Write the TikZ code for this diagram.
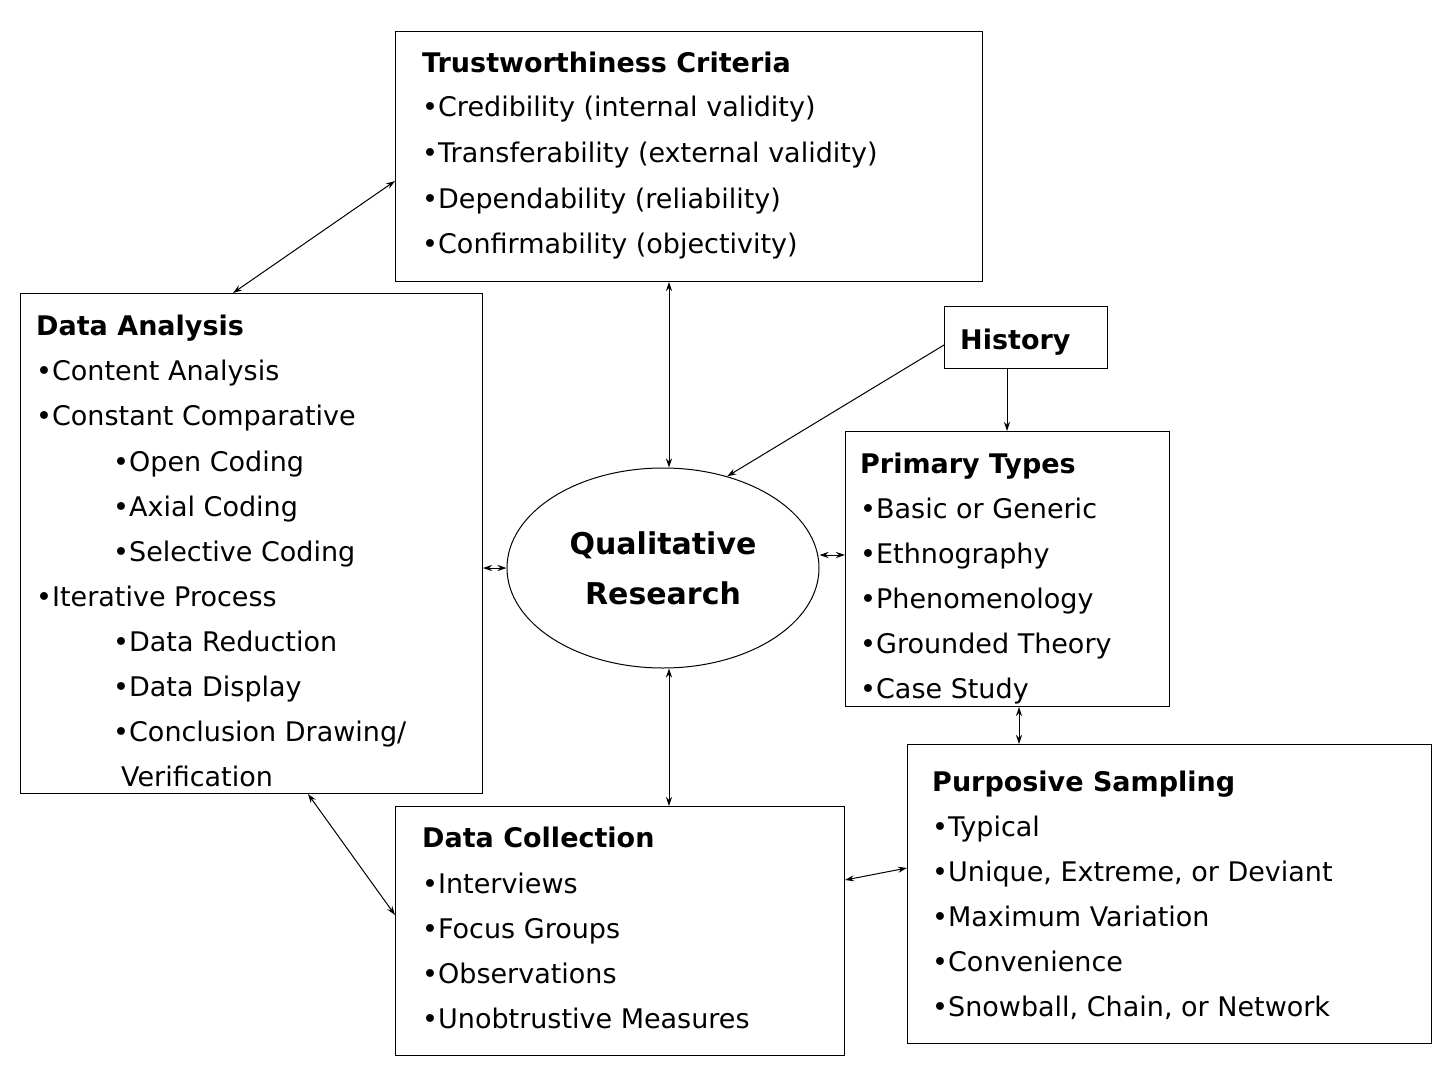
\documentclass[tikz,border=0pt]{standalone}
\usepackage{fontspec}
\setmainfont{DejaVu Sans}
\usetikzlibrary{shapes.geometric,arrows.meta,calc}
\begin{document}
\begin{tikzpicture}[x=1pt,y=-1pt,
 box/.style={draw,line width=1pt,anchor=north west,inner sep=0pt},
 t/.style={anchor=base west,inner sep=0pt,font=\fontsize{27}{30}\selectfont},
 b/.style={t,font=\fontsize{27}{30}\selectfont\bfseries},
 con/.style={line width=1pt,{Stealth[length=9pt,width=6pt]}-{Stealth[length=9pt,width=6pt]}},
 one/.style={line width=1pt,-{Stealth[length=9pt,width=6pt]}}]
\useasboundingbox (0,0) rectangle (1441,1076);
\node[box,minimum width=587,minimum height=250] (tr) at (395,31) {};
\node[box,minimum width=462,minimum height=500] (da) at (20,293) {};
\node[box,minimum width=163,minimum height=62] (hi) at (944,306) {};
\node[box,minimum width=324,minimum height=275] (pt) at (845,431) {};
\node[box,minimum width=524,minimum height=299] (ps) at (907,744) {};
\node[box,minimum width=449,minimum height=249] (dc) at (395,806) {};
\node[draw,line width=1pt,ellipse,minimum width=312,minimum height=200,inner sep=0pt,align=center,font=\fontsize{30}{50}\selectfont\bfseries] (qr) at (663,568) {Qualitative\\Research};
% texts
\node[b] (tr0) at (422,72) {Trustworthiness Criteria};
\node[t] (tr1) at (422,116) {•Credibility (internal validity)};
\node[t] (tr2) at (422,162) {•Transferability (external validity)};
\node[t] (tr3) at (422,208) {•Dependability (reliability)};
\node[t] (tr4) at (422,253) {•Confirmability (objectivity)};
\node[b] (da0) at (36,335) {Data Analysis};
\node[t] (da1) at (36,380) {•Content Analysis};
\node[t] (da2) at (36,425) {•Constant Comparative};
\node[t] (da3) at (113,471) {•Open Coding};
\node[t] (da4) at (113,516) {•Axial Coding};
\node[t] (da5) at (113,561) {•Selective Coding};
\node[t] (da6) at (36,606) {•Iterative Process};
\node[t] (da7) at (113,651) {•Data Reduction};
\node[t] (da8) at (113,696) {•Data Display};
\node[t] (da9) at (113,741) {•Conclusion Drawing/};
\node[t] (da10) at (121,786) {Verification};
\node[b] (hi0) at (960,349) {History};
\node[b] (pt0) at (860,473) {Primary Types};
\node[t] (pt1) at (860,518) {•Basic or Generic};
\node[t] (pt2) at (860,563) {•Ethnography};
\node[t] (pt3) at (860,608) {•Phenomenology};
\node[t] (pt4) at (860,653) {•Grounded Theory};
\node[t] (pt5) at (860,698) {•Case Study};
\node[b] (ps0) at (932,791) {Purposive Sampling};
\node[t] (ps1) at (932,836) {•Typical};
\node[t] (ps2) at (932,881) {•Unique, Extreme, or Deviant};
\node[t] (ps3) at (932,926) {•Maximum Variation};
\node[t] (ps4) at (932,971) {•Convenience};
\node[t] (ps5) at (932,1016) {•Snowball, Chain, or Network};
\node[b] (dc0) at (422,847) {Data Collection};
\node[t] (dc1) at (422,893) {•Interviews};
\node[t] (dc2) at (422,938) {•Focus Groups};
\node[t] (dc3) at (422,983) {•Observations};
\node[t] (dc4) at (422,1028) {•Unobtrustive Measures};
% connectors
\draw[con] ($(da.north west)+(213,0)$) -- ($(tr.north west)+(0,150)$);
\draw[con] ($(tr.south west)+(274,0)$) -- (qr.north -| {$(tr.south west)+(274,0)$});
\draw[one] ($(hi.north west)+(0,39)$) -- (qr.55);
\draw[one] ($(hi.south west)+(63,0)$) -- ($(pt.north west)+(162,0)$);
\draw[con] (qr.east |- {$(pt.north west)+(0,124)$}) -- ($(pt.north west)+(0,124)$);
\draw[con] (qr.west) -- (qr.west -| da.east);
\draw[con] (qr.south -| {$(dc.north west)+(274,0)$}) -- ($(dc.north west)+(274,0)$);
\draw[con] ($(pt.south west)+(174,0)$) -- ($(ps.north west)+(112,0)$);
\draw[con] ($(dc.north east)+(0,74)$) -- ($(ps.north west)+(0,124)$);
\draw[con] ($(da.south west)+(288,0)$) -- ($(dc.north west)+(0,109)$);
\end{tikzpicture}
\end{document}
